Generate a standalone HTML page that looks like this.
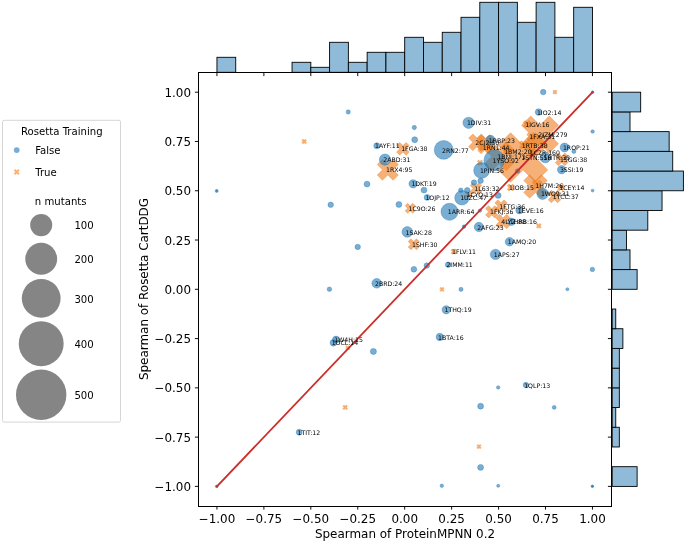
<!DOCTYPE html><html><head><meta charset="utf-8"><style>html,body{margin:0;padding:0;background:#fff;width:685px;height:542px;overflow:hidden}</style></head><body><svg width="685" height="542" viewBox="0 0 685 542" style="display:block">
<rect width="685" height="542" fill="#fff"/>
<rect x="216.95" y="57.30" width="18.78" height="15.00" fill="#8fbbd9" stroke="#000" stroke-width="0.9"/>
<rect x="292.05" y="62.30" width="18.77" height="10.00" fill="#8fbbd9" stroke="#000" stroke-width="0.9"/>
<rect x="310.82" y="67.30" width="18.78" height="5.00" fill="#8fbbd9" stroke="#000" stroke-width="0.9"/>
<rect x="329.60" y="42.30" width="18.77" height="30.00" fill="#8fbbd9" stroke="#000" stroke-width="0.9"/>
<rect x="348.38" y="62.30" width="18.77" height="10.00" fill="#8fbbd9" stroke="#000" stroke-width="0.9"/>
<rect x="367.15" y="52.30" width="18.78" height="20.00" fill="#8fbbd9" stroke="#000" stroke-width="0.9"/>
<rect x="385.93" y="52.30" width="18.77" height="20.00" fill="#8fbbd9" stroke="#000" stroke-width="0.9"/>
<rect x="404.70" y="37.30" width="18.78" height="35.00" fill="#8fbbd9" stroke="#000" stroke-width="0.9"/>
<rect x="423.48" y="42.30" width="18.77" height="30.00" fill="#8fbbd9" stroke="#000" stroke-width="0.9"/>
<rect x="442.25" y="32.30" width="18.77" height="40.00" fill="#8fbbd9" stroke="#000" stroke-width="0.9"/>
<rect x="461.02" y="17.30" width="18.78" height="55.00" fill="#8fbbd9" stroke="#000" stroke-width="0.9"/>
<rect x="479.80" y="2.30" width="18.77" height="70.00" fill="#8fbbd9" stroke="#000" stroke-width="0.9"/>
<rect x="498.57" y="2.30" width="18.78" height="70.00" fill="#8fbbd9" stroke="#000" stroke-width="0.9"/>
<rect x="517.35" y="22.30" width="18.77" height="50.00" fill="#8fbbd9" stroke="#000" stroke-width="0.9"/>
<rect x="536.12" y="2.30" width="18.77" height="70.00" fill="#8fbbd9" stroke="#000" stroke-width="0.9"/>
<rect x="554.90" y="37.30" width="18.77" height="35.00" fill="#8fbbd9" stroke="#000" stroke-width="0.9"/>
<rect x="573.67" y="7.30" width="18.78" height="65.00" fill="#8fbbd9" stroke="#000" stroke-width="0.9"/>
<rect x="612.20" y="466.69" width="24.92" height="19.71" fill="#8fbbd9" stroke="#000" stroke-width="0.9"/>
<rect x="612.20" y="427.27" width="7.12" height="19.71" fill="#8fbbd9" stroke="#000" stroke-width="0.9"/>
<rect x="612.20" y="407.56" width="3.56" height="19.71" fill="#8fbbd9" stroke="#000" stroke-width="0.9"/>
<rect x="612.20" y="387.85" width="7.12" height="19.71" fill="#8fbbd9" stroke="#000" stroke-width="0.9"/>
<rect x="612.20" y="368.14" width="7.12" height="19.71" fill="#8fbbd9" stroke="#000" stroke-width="0.9"/>
<rect x="612.20" y="348.43" width="7.12" height="19.71" fill="#8fbbd9" stroke="#000" stroke-width="0.9"/>
<rect x="612.20" y="328.72" width="10.68" height="19.71" fill="#8fbbd9" stroke="#000" stroke-width="0.9"/>
<rect x="612.20" y="309.01" width="3.56" height="19.71" fill="#8fbbd9" stroke="#000" stroke-width="0.9"/>
<rect x="612.20" y="269.59" width="24.92" height="19.71" fill="#8fbbd9" stroke="#000" stroke-width="0.9"/>
<rect x="612.20" y="249.88" width="17.80" height="19.71" fill="#8fbbd9" stroke="#000" stroke-width="0.9"/>
<rect x="612.20" y="230.17" width="14.24" height="19.71" fill="#8fbbd9" stroke="#000" stroke-width="0.9"/>
<rect x="612.20" y="210.46" width="35.60" height="19.71" fill="#8fbbd9" stroke="#000" stroke-width="0.9"/>
<rect x="612.20" y="190.75" width="49.84" height="19.71" fill="#8fbbd9" stroke="#000" stroke-width="0.9"/>
<rect x="612.20" y="171.04" width="71.20" height="19.71" fill="#8fbbd9" stroke="#000" stroke-width="0.9"/>
<rect x="612.20" y="151.33" width="60.52" height="19.71" fill="#8fbbd9" stroke="#000" stroke-width="0.9"/>
<rect x="612.20" y="131.62" width="56.96" height="19.71" fill="#8fbbd9" stroke="#000" stroke-width="0.9"/>
<rect x="612.20" y="111.91" width="17.80" height="19.71" fill="#8fbbd9" stroke="#000" stroke-width="0.9"/>
<rect x="612.20" y="92.20" width="28.48" height="19.71" fill="#8fbbd9" stroke="#000" stroke-width="0.9"/>
<path d="M303.02,139.15 L304.20,140.32 L305.38,139.15 L306.55,140.32 L305.38,141.50 L306.55,142.68 L305.38,143.85 L304.20,142.68 L303.02,143.85 L301.85,142.68 L303.02,141.50 L301.85,140.32Z" fill="#ee7d1e" fill-opacity="0.6" stroke="#ee7d1e" stroke-opacity="0.6" stroke-width="0.6" stroke-linejoin="miter"/><path d="M382.53,159.25 L387.80,164.53 L393.07,159.25 L398.35,164.53 L393.07,169.80 L398.35,175.07 L393.07,180.35 L387.80,175.07 L382.53,180.35 L377.25,175.07 L382.53,169.80 L377.25,164.53Z" fill="#ee7d1e" fill-opacity="0.6" stroke="#ee7d1e" stroke-opacity="0.6" stroke-width="0.6" stroke-linejoin="miter"/><path d="M346.73,345.75 L347.80,346.82 L348.88,345.75 L349.95,346.82 L348.88,347.90 L349.95,348.97 L348.88,350.05 L347.80,348.97 L346.73,350.05 L345.65,348.97 L346.73,347.90 L345.65,346.82Z" fill="#ee7d1e" fill-opacity="0.6" stroke="#ee7d1e" stroke-opacity="0.6" stroke-width="0.6" stroke-linejoin="miter"/><path d="M344.02,405.05 L345.20,406.22 L346.38,405.05 L347.55,406.22 L346.38,407.40 L347.55,408.57 L346.38,409.75 L345.20,408.57 L344.02,409.75 L342.85,408.57 L344.02,407.40 L342.85,406.22Z" fill="#ee7d1e" fill-opacity="0.6" stroke="#ee7d1e" stroke-opacity="0.6" stroke-width="0.6" stroke-linejoin="miter"/><path d="M477.93,444.45 L479.00,445.53 L480.07,444.45 L481.15,445.53 L480.07,446.60 L481.15,447.68 L480.07,448.75 L479.00,447.68 L477.93,448.75 L476.85,447.68 L477.93,446.60 L476.85,445.53Z" fill="#ee7d1e" fill-opacity="0.6" stroke="#ee7d1e" stroke-opacity="0.6" stroke-width="0.6" stroke-linejoin="miter"/><path d="M440.93,287.25 L442.00,288.32 L443.07,287.25 L444.15,288.32 L443.07,289.40 L444.15,290.47 L443.07,291.55 L442.00,290.47 L440.93,291.55 L439.85,290.47 L440.93,289.40 L439.85,288.32Z" fill="#ee7d1e" fill-opacity="0.6" stroke="#ee7d1e" stroke-opacity="0.6" stroke-width="0.6" stroke-linejoin="miter"/><path d="M537.57,223.45 L538.80,224.68 L540.02,223.45 L541.25,224.68 L540.02,225.90 L541.25,227.12 L540.02,228.35 L538.80,227.12 L537.57,228.35 L536.35,227.12 L537.57,225.90 L536.35,224.68Z" fill="#ee7d1e" fill-opacity="0.6" stroke="#ee7d1e" stroke-opacity="0.6" stroke-width="0.6" stroke-linejoin="miter"/><path d="M452.42,248.84 L453.80,250.22 L455.18,248.84 L456.56,250.22 L455.18,251.60 L456.56,252.98 L455.18,254.36 L453.80,252.98 L452.42,254.36 L451.04,252.98 L452.42,251.60 L451.04,250.22Z" fill="#ee7d1e" fill-opacity="0.6" stroke="#ee7d1e" stroke-opacity="0.6" stroke-width="0.6" stroke-linejoin="miter"/><path d="M410.94,238.77 L413.70,241.54 L416.46,238.77 L419.23,241.54 L416.46,244.30 L419.23,247.06 L416.46,249.83 L413.70,247.06 L410.94,249.83 L408.17,247.06 L410.94,244.30 L408.17,241.54Z" fill="#ee7d1e" fill-opacity="0.6" stroke="#ee7d1e" stroke-opacity="0.6" stroke-width="0.6" stroke-linejoin="miter"/><path d="M553.88,90.05 L554.90,91.07 L555.92,90.05 L556.95,91.07 L555.92,92.10 L556.95,93.12 L555.92,94.15 L554.90,93.12 L553.88,94.15 L552.85,93.12 L553.88,92.10 L552.85,91.07Z" fill="#ee7d1e" fill-opacity="0.6" stroke="#ee7d1e" stroke-opacity="0.6" stroke-width="0.6" stroke-linejoin="miter"/><path d="M399.72,142.44 L402.90,145.62 L406.08,142.44 L409.26,145.62 L406.08,148.80 L409.26,151.98 L406.08,155.16 L402.90,151.98 L399.72,155.16 L396.54,151.98 L399.72,148.80 L396.54,145.62Z" fill="#ee7d1e" fill-opacity="0.6" stroke="#ee7d1e" stroke-opacity="0.6" stroke-width="0.6" stroke-linejoin="miter"/><path d="M407.67,203.23 L410.20,205.77 L412.73,203.23 L415.27,205.77 L412.73,208.30 L415.27,210.83 L412.73,213.37 L410.20,210.83 L407.67,213.37 L405.13,210.83 L407.67,208.30 L405.13,205.77Z" fill="#ee7d1e" fill-opacity="0.6" stroke="#ee7d1e" stroke-opacity="0.6" stroke-width="0.6" stroke-linejoin="miter"/><path d="M473.13,182.65 L476.00,185.53 L478.87,182.65 L481.75,185.53 L478.87,188.40 L481.75,191.27 L478.87,194.15 L476.00,191.27 L473.13,194.15 L470.25,191.27 L473.13,188.40 L470.25,185.53Z" fill="#ee7d1e" fill-opacity="0.6" stroke="#ee7d1e" stroke-opacity="0.6" stroke-width="0.6" stroke-linejoin="miter"/><path d="M466.82,191.14 L468.40,192.72 L469.98,191.14 L471.56,192.72 L469.98,194.30 L471.56,195.88 L469.98,197.46 L468.40,195.88 L466.82,197.46 L465.24,195.88 L466.82,194.30 L465.24,192.72Z" fill="#ee7d1e" fill-opacity="0.6" stroke="#ee7d1e" stroke-opacity="0.6" stroke-width="0.6" stroke-linejoin="miter"/><path d="M509.04,183.98 L510.80,185.74 L512.56,183.98 L514.32,185.74 L512.56,187.50 L514.32,189.26 L512.56,191.02 L510.80,189.26 L509.04,191.02 L507.28,189.26 L509.04,187.50 L507.28,185.74Z" fill="#ee7d1e" fill-opacity="0.6" stroke="#ee7d1e" stroke-opacity="0.6" stroke-width="0.6" stroke-linejoin="miter"/><path d="M497.92,199.84 L501.00,202.92 L504.08,199.84 L507.16,202.92 L504.08,206.00 L507.16,209.08 L504.08,212.16 L501.00,209.08 L497.92,212.16 L494.84,209.08 L497.92,206.00 L494.84,202.92Z" fill="#ee7d1e" fill-opacity="0.6" stroke="#ee7d1e" stroke-opacity="0.6" stroke-width="0.6" stroke-linejoin="miter"/><path d="M488.62,205.64 L491.70,208.72 L494.78,205.64 L497.86,208.72 L494.78,211.80 L497.86,214.88 L494.78,217.96 L491.70,214.88 L488.62,217.96 L485.54,214.88 L488.62,211.80 L485.54,208.72Z" fill="#ee7d1e" fill-opacity="0.6" stroke="#ee7d1e" stroke-opacity="0.6" stroke-width="0.6" stroke-linejoin="miter"/><path d="M499.38,214.25 L503.00,217.88 L506.62,214.25 L510.25,217.88 L506.62,221.50 L510.25,225.12 L506.62,228.75 L503.00,225.12 L499.38,228.75 L495.75,225.12 L499.38,221.50 L495.75,217.88Z" fill="#ee7d1e" fill-opacity="0.6" stroke="#ee7d1e" stroke-opacity="0.6" stroke-width="0.6" stroke-linejoin="miter"/><path d="M558.42,153.04 L561.60,156.22 L564.78,153.04 L567.96,156.22 L564.78,159.40 L567.96,162.58 L564.78,165.76 L561.60,162.58 L558.42,165.76 L555.24,162.58 L558.42,159.40 L555.24,156.22Z" fill="#ee7d1e" fill-opacity="0.6" stroke="#ee7d1e" stroke-opacity="0.6" stroke-width="0.6" stroke-linejoin="miter"/><path d="M551.37,190.34 L554.50,193.47 L557.63,190.34 L560.76,193.47 L557.63,196.60 L560.76,199.73 L557.63,202.86 L554.50,199.73 L551.37,202.86 L548.24,199.73 L551.37,196.60 L548.24,193.47Z" fill="#ee7d1e" fill-opacity="0.6" stroke="#ee7d1e" stroke-opacity="0.6" stroke-width="0.6" stroke-linejoin="miter"/><path d="M534.47,179.93 L537.00,182.47 L539.53,179.93 L542.07,182.47 L539.53,185.00 L542.07,187.53 L539.53,190.07 L537.00,187.53 L534.47,190.07 L531.93,187.53 L534.47,185.00 L531.93,182.47Z" fill="#ee7d1e" fill-opacity="0.6" stroke="#ee7d1e" stroke-opacity="0.6" stroke-width="0.6" stroke-linejoin="miter"/><path d="M559.33,184.16 L561.00,185.83 L562.67,184.16 L564.34,185.83 L562.67,187.50 L564.34,189.17 L562.67,190.84 L561.00,189.17 L559.33,190.84 L557.66,189.17 L559.33,187.50 L557.66,185.83Z" fill="#ee7d1e" fill-opacity="0.6" stroke="#ee7d1e" stroke-opacity="0.6" stroke-width="0.6" stroke-linejoin="miter"/><path d="M529.62,174.75 L535.50,180.62 L541.38,174.75 L547.25,180.62 L541.38,186.50 L547.25,192.38 L541.38,198.25 L535.50,192.38 L529.62,198.25 L523.75,192.38 L529.62,186.50 L523.75,180.62Z" fill="#ee7d1e" fill-opacity="0.6" stroke="#ee7d1e" stroke-opacity="0.6" stroke-width="0.6" stroke-linejoin="miter"/><path d="M530.74,115.99 L540.00,125.24 L549.26,115.99 L558.51,125.24 L549.26,134.50 L558.51,143.76 L549.26,153.01 L540.00,143.76 L530.74,153.01 L521.49,143.76 L530.74,134.50 L521.49,125.24Z" fill="#ee7d1e" fill-opacity="0.6" stroke="#ee7d1e" stroke-opacity="0.6" stroke-width="0.6" stroke-linejoin="miter"/><path d="M525.16,120.52 L527.00,122.36 L528.84,120.52 L530.68,122.36 L528.84,124.20 L530.68,126.04 L528.84,127.88 L527.00,126.04 L525.16,127.88 L523.32,126.04 L525.16,124.20 L523.32,122.36Z" fill="#ee7d1e" fill-opacity="0.6" stroke="#ee7d1e" stroke-opacity="0.6" stroke-width="0.6" stroke-linejoin="miter"/><path d="M528.88,132.55 L531.00,134.68 L533.12,132.55 L535.25,134.68 L533.12,136.80 L535.25,138.93 L533.12,141.05 L531.00,138.93 L528.88,141.05 L526.75,138.93 L528.88,136.80 L526.75,134.68Z" fill="#ee7d1e" fill-opacity="0.6" stroke="#ee7d1e" stroke-opacity="0.6" stroke-width="0.6" stroke-linejoin="miter"/><path d="M521.38,140.65 L523.50,142.78 L525.62,140.65 L527.75,142.78 L525.62,144.90 L527.75,147.03 L525.62,149.15 L523.50,147.03 L521.38,149.15 L519.25,147.03 L521.38,144.90 L519.25,142.78Z" fill="#ee7d1e" fill-opacity="0.6" stroke="#ee7d1e" stroke-opacity="0.6" stroke-width="0.6" stroke-linejoin="miter"/><path d="M472.82,133.95 L477.00,138.12 L481.18,133.95 L485.35,138.12 L481.18,142.30 L485.35,146.48 L481.18,150.65 L477.00,146.48 L472.82,150.65 L468.65,146.48 L472.82,142.30 L468.65,138.12Z" fill="#ee7d1e" fill-opacity="0.6" stroke="#ee7d1e" stroke-opacity="0.6" stroke-width="0.6" stroke-linejoin="miter"/><path d="M481.32,134.65 L485.50,138.82 L489.68,134.65 L493.85,138.82 L489.68,143.00 L493.85,147.18 L489.68,151.35 L485.50,147.18 L481.32,151.35 L477.15,147.18 L481.32,143.00 L477.15,138.82Z" fill="#ee7d1e" fill-opacity="0.6" stroke="#ee7d1e" stroke-opacity="0.6" stroke-width="0.6" stroke-linejoin="miter"/><path d="M481.04,139.99 L484.50,143.44 L487.96,139.99 L491.41,143.44 L487.96,146.90 L491.41,150.36 L487.96,153.81 L484.50,150.36 L481.04,153.81 L477.59,150.36 L481.04,146.90 L477.59,143.44Z" fill="#ee7d1e" fill-opacity="0.6" stroke="#ee7d1e" stroke-opacity="0.6" stroke-width="0.6" stroke-linejoin="miter"/><path d="M510.62,132.75 L523.00,145.12 L535.38,132.75 L547.75,145.12 L535.38,157.50 L547.75,169.88 L535.38,182.25 L523.00,169.88 L510.62,182.25 L498.25,169.88 L510.62,157.50 L498.25,145.12Z" fill="#ee7d1e" fill-opacity="0.6" stroke="#ee7d1e" stroke-opacity="0.6" stroke-width="0.6" stroke-linejoin="miter"/><path d="M491.81,142.03 L499.00,149.21 L506.19,142.03 L513.37,149.21 L506.19,156.40 L513.37,163.59 L506.19,170.77 L499.00,163.59 L491.81,170.77 L484.63,163.59 L491.81,156.40 L484.63,149.21Z" fill="#ee7d1e" fill-opacity="0.6" stroke="#ee7d1e" stroke-opacity="0.6" stroke-width="0.6" stroke-linejoin="miter"/><path d="M529.42,147.85 L531.50,149.93 L533.58,147.85 L535.65,149.93 L533.58,152.00 L535.65,154.07 L533.58,156.15 L531.50,154.07 L529.42,156.15 L527.35,154.07 L529.42,152.00 L527.35,149.93Z" fill="#ee7d1e" fill-opacity="0.6" stroke="#ee7d1e" stroke-opacity="0.6" stroke-width="0.6" stroke-linejoin="miter"/><path d="M504.52,148.25 L505.90,149.62 L507.27,148.25 L508.65,149.62 L507.27,151.00 L508.65,152.38 L507.27,153.75 L505.90,152.38 L504.52,153.75 L503.15,152.38 L504.52,151.00 L503.15,149.62Z" fill="#ee7d1e" fill-opacity="0.6" stroke="#ee7d1e" stroke-opacity="0.6" stroke-width="0.6" stroke-linejoin="miter"/><path d="M478.62,159.95 L480.00,161.32 L481.38,159.95 L482.75,161.32 L481.38,162.70 L482.75,164.07 L481.38,165.45 L480.00,164.07 L478.62,165.45 L477.25,164.07 L478.62,162.70 L477.25,161.32Z" fill="#ee7d1e" fill-opacity="0.6" stroke="#ee7d1e" stroke-opacity="0.6" stroke-width="0.6" stroke-linejoin="miter"/><circle cx="348.20" cy="112.00" r="2.15" fill="#1f77b4" fill-opacity="0.6" stroke="#1f77b4" stroke-opacity="0.6" stroke-width="0.6"/><circle cx="376.80" cy="145.80" r="3.05" fill="#1f77b4" fill-opacity="0.6" stroke="#1f77b4" stroke-opacity="0.6" stroke-width="0.6"/><circle cx="385.00" cy="159.60" r="5.64" fill="#1f77b4" fill-opacity="0.6" stroke="#1f77b4" stroke-opacity="0.6" stroke-width="0.6"/><circle cx="367.00" cy="184.10" r="2.95" fill="#1f77b4" fill-opacity="0.6" stroke="#1f77b4" stroke-opacity="0.6" stroke-width="0.6"/><circle cx="216.70" cy="190.90" r="1.55" fill="#1f77b4" fill-opacity="0.6" stroke="#1f77b4" stroke-opacity="0.6" stroke-width="0.6"/><circle cx="216.70" cy="190.90" r="0.75" fill="#1f77b4" fill-opacity="0.6" stroke="#1f77b4" stroke-opacity="0.6" stroke-width="0.6"/><circle cx="330.70" cy="204.80" r="2.75" fill="#1f77b4" fill-opacity="0.6" stroke="#1f77b4" stroke-opacity="0.6" stroke-width="0.6"/><circle cx="398.90" cy="204.50" r="2.95" fill="#1f77b4" fill-opacity="0.6" stroke="#1f77b4" stroke-opacity="0.6" stroke-width="0.6"/><circle cx="357.70" cy="246.90" r="2.75" fill="#1f77b4" fill-opacity="0.6" stroke="#1f77b4" stroke-opacity="0.6" stroke-width="0.6"/><circle cx="376.70" cy="283.30" r="4.82" fill="#1f77b4" fill-opacity="0.6" stroke="#1f77b4" stroke-opacity="0.6" stroke-width="0.6"/><circle cx="329.40" cy="289.20" r="2.25" fill="#1f77b4" fill-opacity="0.6" stroke="#1f77b4" stroke-opacity="0.6" stroke-width="0.6"/><circle cx="336.00" cy="339.60" r="3.52" fill="#1f77b4" fill-opacity="0.6" stroke="#1f77b4" stroke-opacity="0.6" stroke-width="0.6"/><circle cx="333.40" cy="342.80" r="3.34" fill="#1f77b4" fill-opacity="0.6" stroke="#1f77b4" stroke-opacity="0.6" stroke-width="0.6"/><circle cx="373.40" cy="351.50" r="3.05" fill="#1f77b4" fill-opacity="0.6" stroke="#1f77b4" stroke-opacity="0.6" stroke-width="0.6"/><circle cx="299.20" cy="432.20" r="2.97" fill="#1f77b4" fill-opacity="0.6" stroke="#1f77b4" stroke-opacity="0.6" stroke-width="0.6"/><circle cx="216.70" cy="486.40" r="1.35" fill="#1f77b4" fill-opacity="0.6" stroke="#1f77b4" stroke-opacity="0.6" stroke-width="0.6"/><circle cx="216.70" cy="486.40" r="0.95" fill="#1f77b4" fill-opacity="0.6" stroke="#1f77b4" stroke-opacity="0.6" stroke-width="0.6"/><circle cx="446.20" cy="309.80" r="4.15" fill="#1f77b4" fill-opacity="0.6" stroke="#1f77b4" stroke-opacity="0.6" stroke-width="0.6"/><circle cx="439.80" cy="337.00" r="3.68" fill="#1f77b4" fill-opacity="0.6" stroke="#1f77b4" stroke-opacity="0.6" stroke-width="0.6"/><circle cx="498.20" cy="387.40" r="1.75" fill="#1f77b4" fill-opacity="0.6" stroke="#1f77b4" stroke-opacity="0.6" stroke-width="0.6"/><circle cx="525.90" cy="385.10" r="2.75" fill="#1f77b4" fill-opacity="0.6" stroke="#1f77b4" stroke-opacity="0.6" stroke-width="0.6"/><circle cx="480.60" cy="406.20" r="2.95" fill="#1f77b4" fill-opacity="0.6" stroke="#1f77b4" stroke-opacity="0.6" stroke-width="0.6"/><circle cx="554.20" cy="407.40" r="1.95" fill="#1f77b4" fill-opacity="0.6" stroke="#1f77b4" stroke-opacity="0.6" stroke-width="0.6"/><circle cx="480.60" cy="467.40" r="2.95" fill="#1f77b4" fill-opacity="0.6" stroke="#1f77b4" stroke-opacity="0.6" stroke-width="0.6"/><circle cx="441.80" cy="485.80" r="1.75" fill="#1f77b4" fill-opacity="0.6" stroke="#1f77b4" stroke-opacity="0.6" stroke-width="0.6"/><circle cx="498.20" cy="485.80" r="1.55" fill="#1f77b4" fill-opacity="0.6" stroke="#1f77b4" stroke-opacity="0.6" stroke-width="0.6"/><circle cx="592.40" cy="486.30" r="1.35" fill="#1f77b4" fill-opacity="0.6" stroke="#1f77b4" stroke-opacity="0.6" stroke-width="0.6"/><circle cx="592.40" cy="486.30" r="0.95" fill="#1f77b4" fill-opacity="0.6" stroke="#1f77b4" stroke-opacity="0.6" stroke-width="0.6"/><circle cx="461.00" cy="289.40" r="2.05" fill="#1f77b4" fill-opacity="0.6" stroke="#1f77b4" stroke-opacity="0.6" stroke-width="0.6"/><circle cx="567.40" cy="289.20" r="1.55" fill="#1f77b4" fill-opacity="0.6" stroke="#1f77b4" stroke-opacity="0.6" stroke-width="0.6"/><circle cx="592.40" cy="269.40" r="2.25" fill="#1f77b4" fill-opacity="0.6" stroke="#1f77b4" stroke-opacity="0.6" stroke-width="0.6"/><circle cx="509.50" cy="241.70" r="4.29" fill="#1f77b4" fill-opacity="0.6" stroke="#1f77b4" stroke-opacity="0.6" stroke-width="0.6"/><circle cx="495.50" cy="254.40" r="5.19" fill="#1f77b4" fill-opacity="0.6" stroke="#1f77b4" stroke-opacity="0.6" stroke-width="0.6"/><circle cx="448.10" cy="264.70" r="2.76" fill="#1f77b4" fill-opacity="0.6" stroke="#1f77b4" stroke-opacity="0.6" stroke-width="0.6"/><circle cx="413.90" cy="269.30" r="2.85" fill="#1f77b4" fill-opacity="0.6" stroke="#1f77b4" stroke-opacity="0.6" stroke-width="0.6"/><circle cx="426.80" cy="265.60" r="2.75" fill="#1f77b4" fill-opacity="0.6" stroke="#1f77b4" stroke-opacity="0.6" stroke-width="0.6"/><circle cx="407.30" cy="231.90" r="5.30" fill="#1f77b4" fill-opacity="0.6" stroke="#1f77b4" stroke-opacity="0.6" stroke-width="0.6"/><circle cx="463.90" cy="226.70" r="1.75" fill="#1f77b4" fill-opacity="0.6" stroke="#1f77b4" stroke-opacity="0.6" stroke-width="0.6"/><circle cx="464.30" cy="226.40" r="1.25" fill="#1f77b4" fill-opacity="0.6" stroke="#1f77b4" stroke-opacity="0.6" stroke-width="0.6"/><circle cx="543.20" cy="92.10" r="2.75" fill="#1f77b4" fill-opacity="0.6" stroke="#1f77b4" stroke-opacity="0.6" stroke-width="0.6"/><circle cx="592.60" cy="92.20" r="1.35" fill="#1f77b4" fill-opacity="0.6" stroke="#1f77b4" stroke-opacity="0.6" stroke-width="0.6"/><circle cx="592.60" cy="92.20" r="0.95" fill="#1f77b4" fill-opacity="0.6" stroke="#1f77b4" stroke-opacity="0.6" stroke-width="0.6"/><circle cx="538.60" cy="112.00" r="3.34" fill="#1f77b4" fill-opacity="0.6" stroke="#1f77b4" stroke-opacity="0.6" stroke-width="0.6"/><circle cx="592.60" cy="131.60" r="1.75" fill="#1f77b4" fill-opacity="0.6" stroke="#1f77b4" stroke-opacity="0.6" stroke-width="0.6"/><circle cx="468.60" cy="122.80" r="5.64" fill="#1f77b4" fill-opacity="0.6" stroke="#1f77b4" stroke-opacity="0.6" stroke-width="0.6"/><circle cx="414.30" cy="127.50" r="2.15" fill="#1f77b4" fill-opacity="0.6" stroke="#1f77b4" stroke-opacity="0.6" stroke-width="0.6"/><circle cx="414.70" cy="139.70" r="2.95" fill="#1f77b4" fill-opacity="0.6" stroke="#1f77b4" stroke-opacity="0.6" stroke-width="0.6"/><circle cx="443.70" cy="149.90" r="9.42" fill="#1f77b4" fill-opacity="0.6" stroke="#1f77b4" stroke-opacity="0.6" stroke-width="0.6"/><circle cx="413.10" cy="183.80" r="4.15" fill="#1f77b4" fill-opacity="0.6" stroke="#1f77b4" stroke-opacity="0.6" stroke-width="0.6"/><circle cx="424.00" cy="190.10" r="2.95" fill="#1f77b4" fill-opacity="0.6" stroke="#1f77b4" stroke-opacity="0.6" stroke-width="0.6"/><circle cx="427.10" cy="197.40" r="2.97" fill="#1f77b4" fill-opacity="0.6" stroke="#1f77b4" stroke-opacity="0.6" stroke-width="0.6"/><circle cx="449.50" cy="211.80" r="8.52" fill="#1f77b4" fill-opacity="0.6" stroke="#1f77b4" stroke-opacity="0.6" stroke-width="0.6"/><circle cx="461.90" cy="197.80" r="7.18" fill="#1f77b4" fill-opacity="0.6" stroke="#1f77b4" stroke-opacity="0.6" stroke-width="0.6"/><circle cx="460.80" cy="190.20" r="2.25" fill="#1f77b4" fill-opacity="0.6" stroke="#1f77b4" stroke-opacity="0.6" stroke-width="0.6"/><circle cx="467.20" cy="190.20" r="2.75" fill="#1f77b4" fill-opacity="0.6" stroke="#1f77b4" stroke-opacity="0.6" stroke-width="0.6"/><circle cx="474.00" cy="182.60" r="2.75" fill="#1f77b4" fill-opacity="0.6" stroke="#1f77b4" stroke-opacity="0.6" stroke-width="0.6"/><circle cx="480.60" cy="180.80" r="2.75" fill="#1f77b4" fill-opacity="0.6" stroke="#1f77b4" stroke-opacity="0.6" stroke-width="0.6"/><circle cx="498.10" cy="195.40" r="2.95" fill="#1f77b4" fill-opacity="0.6" stroke="#1f77b4" stroke-opacity="0.6" stroke-width="0.6"/><circle cx="511.50" cy="221.80" r="3.68" fill="#1f77b4" fill-opacity="0.6" stroke="#1f77b4" stroke-opacity="0.6" stroke-width="0.6"/><circle cx="478.90" cy="227.00" r="4.69" fill="#1f77b4" fill-opacity="0.6" stroke="#1f77b4" stroke-opacity="0.6" stroke-width="0.6"/><circle cx="480.00" cy="210.60" r="1.75" fill="#1f77b4" fill-opacity="0.6" stroke="#1f77b4" stroke-opacity="0.6" stroke-width="0.6"/><circle cx="519.50" cy="210.20" r="3.68" fill="#1f77b4" fill-opacity="0.6" stroke="#1f77b4" stroke-opacity="0.6" stroke-width="0.6"/><circle cx="564.60" cy="147.50" r="4.43" fill="#1f77b4" fill-opacity="0.6" stroke="#1f77b4" stroke-opacity="0.6" stroke-width="0.6"/><circle cx="573.90" cy="151.40" r="2.05" fill="#1f77b4" fill-opacity="0.6" stroke="#1f77b4" stroke-opacity="0.6" stroke-width="0.6"/><circle cx="561.60" cy="169.70" r="4.15" fill="#1f77b4" fill-opacity="0.6" stroke="#1f77b4" stroke-opacity="0.6" stroke-width="0.6"/><circle cx="592.60" cy="190.60" r="1.45" fill="#1f77b4" fill-opacity="0.6" stroke="#1f77b4" stroke-opacity="0.6" stroke-width="0.6"/><circle cx="542.60" cy="193.80" r="5.64" fill="#1f77b4" fill-opacity="0.6" stroke="#1f77b4" stroke-opacity="0.6" stroke-width="0.6"/><circle cx="490.50" cy="140.00" r="4.69" fill="#1f77b4" fill-opacity="0.6" stroke="#1f77b4" stroke-opacity="0.6" stroke-width="0.6"/><circle cx="494.30" cy="160.20" r="10.35" fill="#1f77b4" fill-opacity="0.6" stroke="#1f77b4" stroke-opacity="0.6" stroke-width="0.6"/><circle cx="545.30" cy="157.50" r="5.35" fill="#1f77b4" fill-opacity="0.6" stroke="#1f77b4" stroke-opacity="0.6" stroke-width="0.6"/><circle cx="481.60" cy="170.40" r="7.92" fill="#1f77b4" fill-opacity="0.6" stroke="#1f77b4" stroke-opacity="0.6" stroke-width="0.6"/><circle cx="517.60" cy="171.10" r="2.25" fill="#1f77b4" fill-opacity="0.6" stroke="#1f77b4" stroke-opacity="0.6" stroke-width="0.6"/>
<line x1="216.95" y1="486.40" x2="592.45" y2="92.20" stroke="#cc2d2a" stroke-width="1.8" stroke-linecap="square"/>
<g font-family="DejaVu Sans, sans-serif" font-size="6.2" fill="#000"><text x="375.10" y="148.45">1AYF:11</text><text x="383.30" y="162.25">2ABD:31</text><text x="386.10" y="172.45">1RX4:95</text><text x="375.00" y="285.95">2BRD:24</text><text x="334.30" y="342.25">1W4H:15</text><text x="331.70" y="345.45">1OCL:14</text><text x="297.50" y="434.85">1TIT:12</text><text x="444.50" y="312.45">1THQ:19</text><text x="438.10" y="339.65">1BTA:16</text><text x="524.20" y="387.75">1QLP:13</text><text x="507.80" y="244.35">1AMQ:20</text><text x="493.80" y="257.05">1APS:27</text><text x="452.10" y="254.25">1FLV:11</text><text x="446.40" y="267.35">2IMM:11</text><text x="405.60" y="234.55">1SAK:28</text><text x="412.00" y="246.95">1SHF:30</text><text x="536.90" y="114.65">1IO2:14</text><text x="466.90" y="125.45">1DIV:31</text><text x="442.00" y="152.55">2RN2:77</text><text x="401.20" y="151.45">1FGA:38</text><text x="411.40" y="186.45">1DKT:19</text><text x="425.40" y="200.05">1OJP:12</text><text x="408.50" y="210.95">1C9O:26</text><text x="447.80" y="214.45">1ARR:64</text><text x="460.20" y="200.45">1UZC:47</text><text x="474.30" y="191.05">1L63:32</text><text x="466.70" y="196.95">1CYO:13</text><text x="509.10" y="190.15">1IOB:15</text><text x="499.30" y="208.65">1FTG:36</text><text x="490.00" y="214.45">1FKJ:36</text><text x="501.30" y="224.15">4LYZ:88</text><text x="509.80" y="224.45">1HRB:16</text><text x="477.20" y="229.65">2AFG:23</text><text x="517.80" y="212.85">1EVE:16</text><text x="562.90" y="150.15">1ROP:21</text><text x="559.90" y="162.05">1SGG:38</text><text x="559.90" y="172.35">3SSI:19</text><text x="540.90" y="196.45">1WQ9:31</text><text x="552.80" y="199.25">1YCC:37</text><text x="535.30" y="187.65">1H7M:26</text><text x="559.30" y="190.15">1CEY:14</text><text x="538.30" y="137.15">2IZM:279</text><text x="525.30" y="126.85">1IGV:16</text><text x="529.30" y="139.45">1FXA:31</text><text x="521.80" y="147.55">1RTB:38</text><text x="475.30" y="144.95">2CI2:50</text><text x="488.80" y="142.65">1RBP:23</text><text x="482.80" y="149.55">1RN1:44</text><text x="521.30" y="160.15">1STN:558</text><text x="492.60" y="162.85">1YSO:92</text><text x="497.30" y="159.05">1BNI:171</text><text x="543.60" y="160.15">1HTR:38</text><text x="529.80" y="154.65">1C2R:160</text><text x="504.20" y="153.65">1BM2:20</text><text x="479.90" y="173.05">1PIN:56</text></g>
<g stroke="#000" stroke-width="1" fill="none" shape-rendering="crispEdges">
<line x1="198.5" y1="72" x2="198.5" y2="506.5"/>
<line x1="198" y1="506" x2="612" y2="506"/>
<line x1="198" y1="72.5" x2="612" y2="72.5"/>
<line x1="611.5" y1="72" x2="611.5" y2="506.5"/>
</g>
<g stroke="#000" stroke-width="0.95"><line x1="216.95" y1="506" x2="216.95" y2="509.60"/><line x1="194.90" y1="486.40" x2="198.5" y2="486.40"/><line x1="216.95" y1="72.5" x2="216.95" y2="76.10"/><line x1="607.90" y1="486.40" x2="611.5" y2="486.40"/><line x1="263.89" y1="506" x2="263.89" y2="509.60"/><line x1="194.90" y1="437.12" x2="198.5" y2="437.12"/><line x1="263.89" y1="72.5" x2="263.89" y2="76.10"/><line x1="607.90" y1="437.12" x2="611.5" y2="437.12"/><line x1="310.82" y1="506" x2="310.82" y2="509.60"/><line x1="194.90" y1="387.85" x2="198.5" y2="387.85"/><line x1="310.82" y1="72.5" x2="310.82" y2="76.10"/><line x1="607.90" y1="387.85" x2="611.5" y2="387.85"/><line x1="357.76" y1="506" x2="357.76" y2="509.60"/><line x1="194.90" y1="338.57" x2="198.5" y2="338.57"/><line x1="357.76" y1="72.5" x2="357.76" y2="76.10"/><line x1="607.90" y1="338.57" x2="611.5" y2="338.57"/><line x1="404.70" y1="506" x2="404.70" y2="509.60"/><line x1="194.90" y1="289.30" x2="198.5" y2="289.30"/><line x1="404.70" y1="72.5" x2="404.70" y2="76.10"/><line x1="607.90" y1="289.30" x2="611.5" y2="289.30"/><line x1="451.64" y1="506" x2="451.64" y2="509.60"/><line x1="194.90" y1="240.03" x2="198.5" y2="240.03"/><line x1="451.64" y1="72.5" x2="451.64" y2="76.10"/><line x1="607.90" y1="240.03" x2="611.5" y2="240.03"/><line x1="498.57" y1="506" x2="498.57" y2="509.60"/><line x1="194.90" y1="190.75" x2="198.5" y2="190.75"/><line x1="498.57" y1="72.5" x2="498.57" y2="76.10"/><line x1="607.90" y1="190.75" x2="611.5" y2="190.75"/><line x1="545.51" y1="506" x2="545.51" y2="509.60"/><line x1="194.90" y1="141.48" x2="198.5" y2="141.48"/><line x1="545.51" y1="72.5" x2="545.51" y2="76.10"/><line x1="607.90" y1="141.48" x2="611.5" y2="141.48"/><line x1="592.45" y1="506" x2="592.45" y2="509.60"/><line x1="194.90" y1="92.20" x2="198.5" y2="92.20"/><line x1="592.45" y1="72.5" x2="592.45" y2="76.10"/><line x1="607.90" y1="92.20" x2="611.5" y2="92.20"/></g>
<g font-family="DejaVu Sans, sans-serif" font-size="11.95" fill="#000"><text x="216.95" y="522.6" text-anchor="middle">−1.00</text><text x="191.0" y="491.00" text-anchor="end">−1.00</text><text x="263.89" y="522.6" text-anchor="middle">−0.75</text><text x="191.0" y="441.73" text-anchor="end">−0.75</text><text x="310.82" y="522.6" text-anchor="middle">−0.50</text><text x="191.0" y="392.45" text-anchor="end">−0.50</text><text x="357.76" y="522.6" text-anchor="middle">−0.25</text><text x="191.0" y="343.18" text-anchor="end">−0.25</text><text x="404.70" y="522.6" text-anchor="middle">0.00</text><text x="191.0" y="293.90" text-anchor="end">0.00</text><text x="451.64" y="522.6" text-anchor="middle">0.25</text><text x="191.0" y="244.62" text-anchor="end">0.25</text><text x="498.57" y="522.6" text-anchor="middle">0.50</text><text x="191.0" y="195.35" text-anchor="end">0.50</text><text x="545.51" y="522.6" text-anchor="middle">0.75</text><text x="191.0" y="146.08" text-anchor="end">0.75</text><text x="592.45" y="522.6" text-anchor="middle">1.00</text><text x="191.0" y="96.80" text-anchor="end">1.00</text></g>
<text x="405" y="538.3" text-anchor="middle" font-family="DejaVu Sans, sans-serif" font-size="11.95">Spearman of ProteinMPNN 0.2</text>
<text transform="translate(148.3,289) rotate(-90)" x="0" y="0" text-anchor="middle" font-family="DejaVu Sans, sans-serif" font-size="11.95">Spearman of Rosetta CartDDG</text>
<g font-family="DejaVu Sans, sans-serif" font-size="10.15" fill="#000"><rect x="2.5" y="120.3" width="118" height="301.8" rx="1.6" fill="#fff" stroke="#d6d6d6" stroke-width="1"/><text x="61.8" y="134.9" text-anchor="middle">Rosetta Training</text><circle cx="16.7" cy="150.1" r="2.9" fill="#1f77b4" fill-opacity="0.6"/><text x="35.2" y="153.80">False</text><path d="M15.25,169.10 L16.70,170.55 L18.15,169.10 L19.60,170.55 L18.15,172.00 L19.60,173.45 L18.15,174.90 L16.70,173.45 L15.25,174.90 L13.80,173.45 L15.25,172.00 L13.80,170.55Z" fill="#ff7f0e" fill-opacity="0.6"/><text x="35.2" y="175.70">True</text><text x="34.8" y="204.90">n mutants</text><circle cx="41.2" cy="225.1" r="11.05" fill="#333" fill-opacity="0.6"/><text x="74.4" y="229.30">100</text><circle cx="41.2" cy="258.7" r="15.95" fill="#333" fill-opacity="0.6"/><text x="74.4" y="262.90">200</text><circle cx="41.2" cy="298.3" r="19.40" fill="#333" fill-opacity="0.6"/><text x="74.4" y="302.50">300</text><circle cx="41.2" cy="343.7" r="22.45" fill="#333" fill-opacity="0.6"/><text x="74.4" y="347.90">400</text><circle cx="41.2" cy="394.7" r="25.20" fill="#333" fill-opacity="0.6"/><text x="74.4" y="398.90">500</text></g>
</svg></body></html>
